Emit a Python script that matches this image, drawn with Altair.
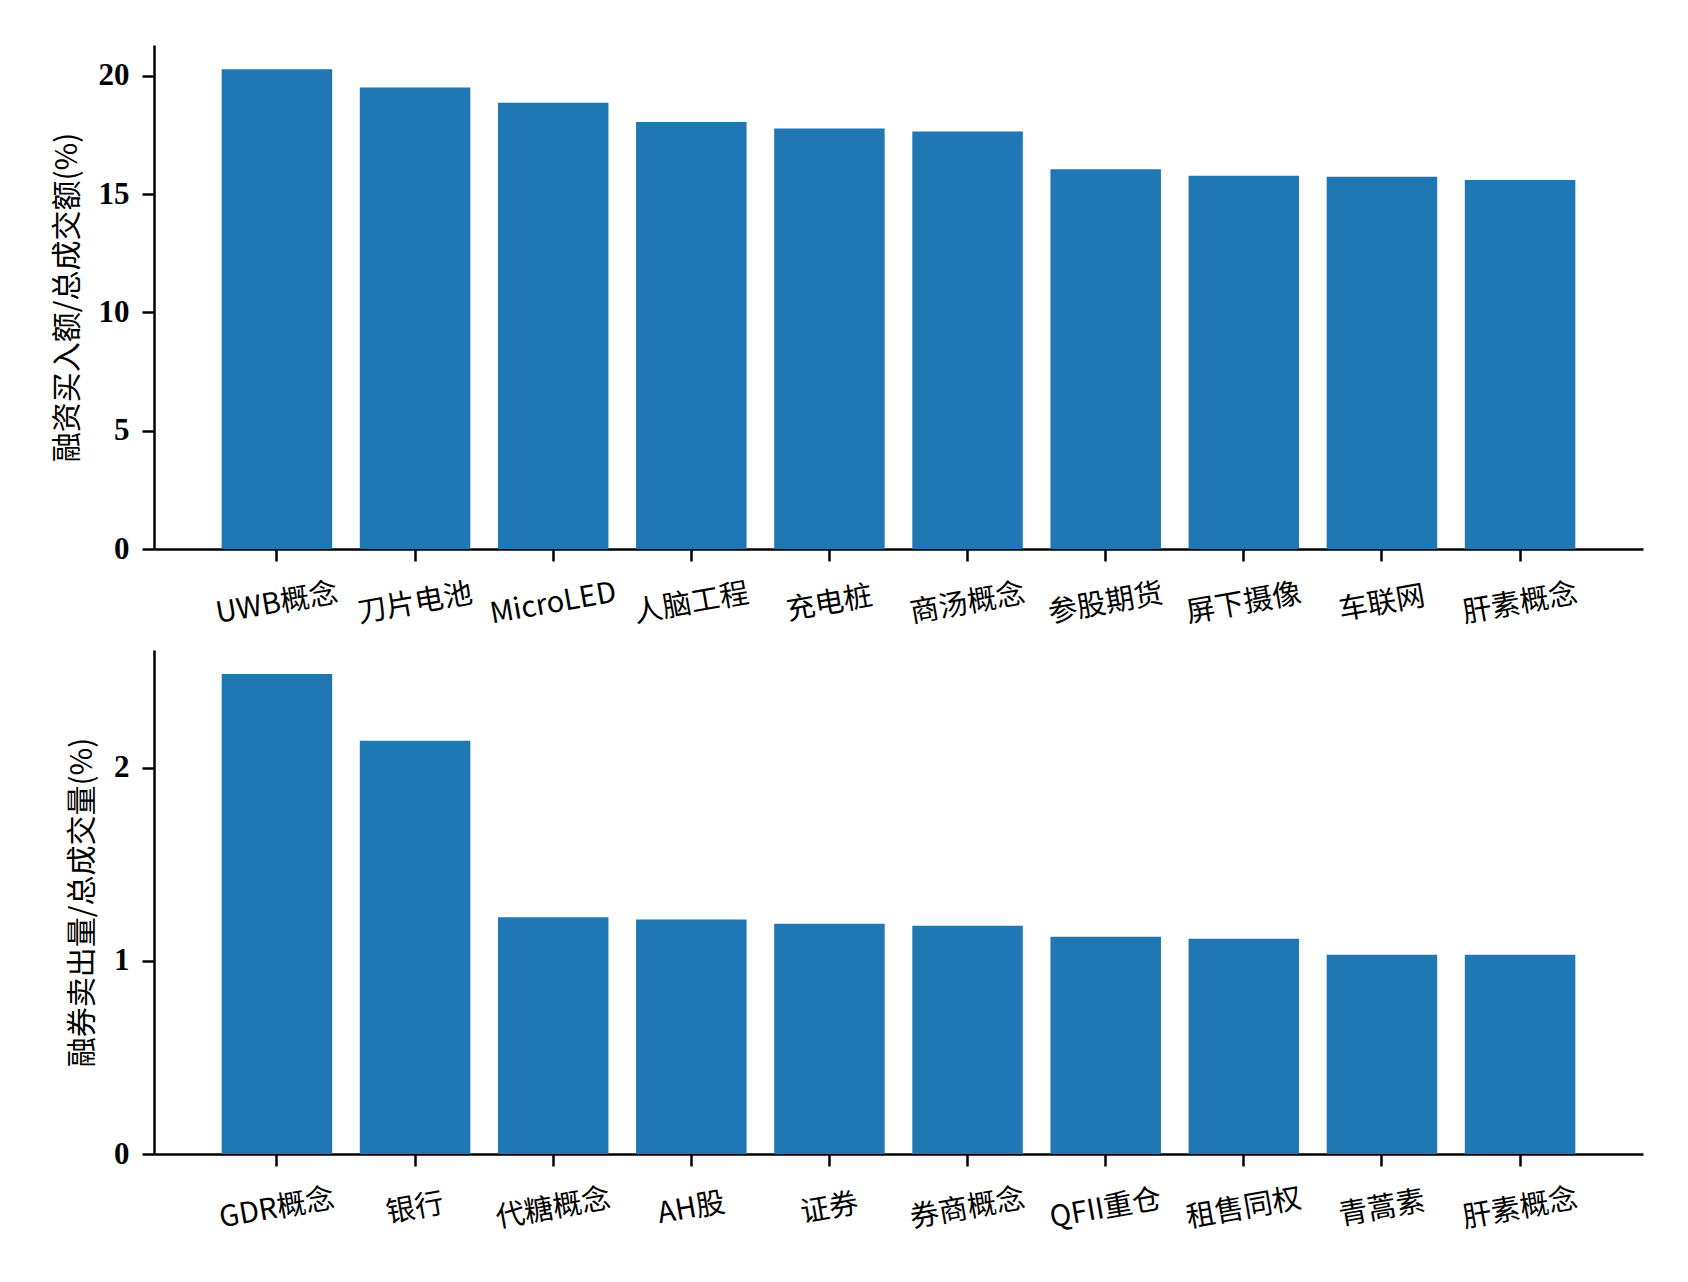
import altair as alt
import pandas as pd

top_cats = ["UWB概念", "刀片电池", "MicroLED", "人脑工程", "充电桩", "商汤概念", "参股期货", "屏下摄像", "车联网", "肝素概念"]
top_vals = [20.27, 19.50, 18.86, 18.05, 17.77, 17.64, 16.05, 15.77, 15.73, 15.59]

bot_cats = ["GDR概念", "银行", "代糖概念", "AH股", "证券", "券商概念", "QFII重仓", "租售同权", "青蒿素", "肝素概念"]
bot_vals = [2.485, 2.139, 1.226, 1.214, 1.192, 1.181, 1.125, 1.114, 1.031, 1.031]

top_title = "融资买入额/总成交额(%)"
bot_title = "融券卖出量/总成交量(%)"
top_ticks = [0, 5, 10, 15, 20]
bot_ticks = [0, 1, 2]

COLOR = "#1f77b4"
CJK = "Noto Sans CJK SC"
W, H = 1489, 504


def panel(cats, vals, title, ticks, ymax):
    df = pd.DataFrame({"cat": cats, "val": vals})
    return alt.Chart(df).mark_bar(color=COLOR).encode(
        x=alt.X("cat:N", sort=cats,
                scale=alt.Scale(paddingInner=0.2, paddingOuter=0.49),
                axis=alt.Axis(title=None, labelAngle=350, labelBaseline="middle",
                              labelAlign="center", labelPadding=42,
                              labelFont=CJK, labelFontSize=29, labelColor="black",
                              tickSize=12, tickWidth=2.5, tickColor="black",
                              domainColor="black", domainWidth=2.5, labelOverlap=False)),
        y=alt.Y("val:Q", scale=alt.Scale(domain=[0, ymax], nice=False, zero=True),
                axis=alt.Axis(title=title, values=ticks, grid=False,
                              labelFont="Liberation Serif", labelFontWeight="bold",
                              labelFontSize=31, labelColor="black", labelPadding=13,
                              tickSize=12, tickWidth=2.5, tickColor="black",
                              domainColor="black", domainWidth=2.5,
                              titleFont=CJK, titleFontSize=30, titleFontWeight="normal",
                              titleColor="black", titlePadding=16)),
    ).properties(width=W, height=H,
                 view=alt.ViewBackground(stroke="transparent", strokeWidth=0))


top = panel(top_cats, top_vals, top_title, top_ticks, 21.3)
bot = panel(bot_cats, bot_vals, bot_title, bot_ticks, 2.609)

chart = alt.vconcat(top, bot, spacing=101, bounds="flush").properties(
    padding={"top": 37, "left": 44, "right": 10, "bottom": 10}
).configure_view(stroke="transparent", strokeWidth=0).configure(background="white")

chart.save("out.html", embed_options={"renderer": "svg", "actions": False})
